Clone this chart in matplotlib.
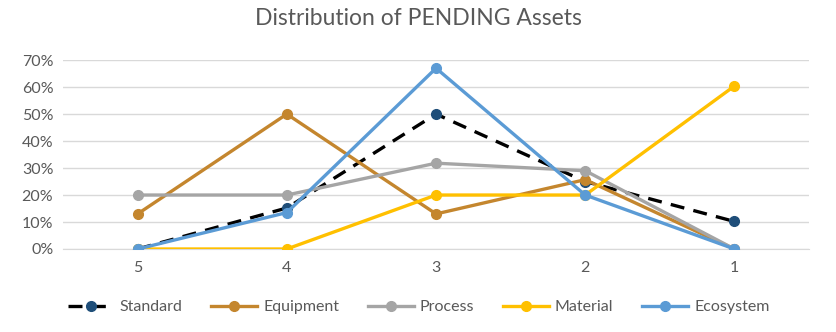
import matplotlib
matplotlib.use("Agg")
import matplotlib.pyplot as plt
from matplotlib.ticker import PercentFormatter

categories = ["5", "4", "3", "2", "1"]
standardValues = [0.0, 0.152, 0.50, 0.25, 0.102]
equipmentValues = [0.13, 0.50, 0.13, 0.257, 0.0]
processValues = [0.20, 0.20, 0.318, 0.29, 0.0]
materialValues = [0.0, 0.0, 0.20, 0.20, 0.604]
ecosystemValues = [0.0, 0.135, 0.67, 0.20, 0.0]
yTicks = [0.0, 0.1, 0.2, 0.3, 0.4, 0.5, 0.6, 0.7]

textColor = "#595959"
gridColor = "#D9D9D9"
plt.rcParams["font.family"] = ["Lato", "DejaVu Sans"]

fig = plt.figure(figsize=(8.37, 3.32), dpi=100)
axis = fig.add_axes([0.0753, 0.25, 0.8913, 0.569])

xValues = list(range(len(categories)))
seriesList = [
    ("Standard", standardValues, "black", "#1F4E79", (0, (4.2, 2.8))),
    ("Equipment", equipmentValues, "#C4862E", "#C4862E", "-"),
    ("Process", processValues, "#A5A5A5", "#A5A5A5", "-"),
    ("Material", materialValues, "#FFC000", "#FFC000", "-"),
    ("Ecosystem", ecosystemValues, "#5B9BD5", "#5B9BD5", "-"),
]
# standard sits on top of the others in the reference
drawOrder = [1, 2, 3, 4, 0]
handles = {}
for index in drawOrder:
    name, values, lineColor, markerColor, style = seriesList[index]
    (line,) = axis.plot(
        xValues,
        values,
        color=lineColor,
        linestyle=style,
        linewidth=2.4,
        marker="o",
        markersize=7,
        markerfacecolor=markerColor,
        markeredgecolor=markerColor,
        label=name,
        zorder=3 + index * 0.1,
    )
    handles[name] = line

axis.set_xlim(-0.5, len(categories) - 0.5)
axis.set_ylim(0, 0.7)
axis.set_yticks(yTicks)
axis.yaxis.set_major_formatter(PercentFormatter(1.0, decimals=0))
axis.set_xticks(xValues)
axis.set_xticklabels(categories)
axis.grid(axis="y", color=gridColor, linewidth=1.0)
axis.set_axisbelow(True)
for side in ["top", "right", "left"]:
    axis.spines[side].set_visible(False)
axis.spines["bottom"].set_color(gridColor)
axis.tick_params(axis="both", length=0, labelsize=11.5, colors=textColor)
axis.tick_params(axis="x", pad=9)
axis.tick_params(axis="y", pad=7)

fig.suptitle("Distribution of PENDING Assets", x=0.5, y=0.975, fontsize=16.5, color=textColor)

legendNames = [item[0] for item in seriesList]
fig.legend(
    [handles[name] for name in legendNames],
    legendNames,
    loc="center",
    bbox_to_anchor=(0.5, 0.075),
    ncol=5,
    frameon=False,
    fontsize=11.5,
    labelcolor=textColor,
    handlelength=2.9,
    handletextpad=0.35,
    columnspacing=1.8,
)

fig.savefig("out.png", dpi=100)
plt.close(fig)
